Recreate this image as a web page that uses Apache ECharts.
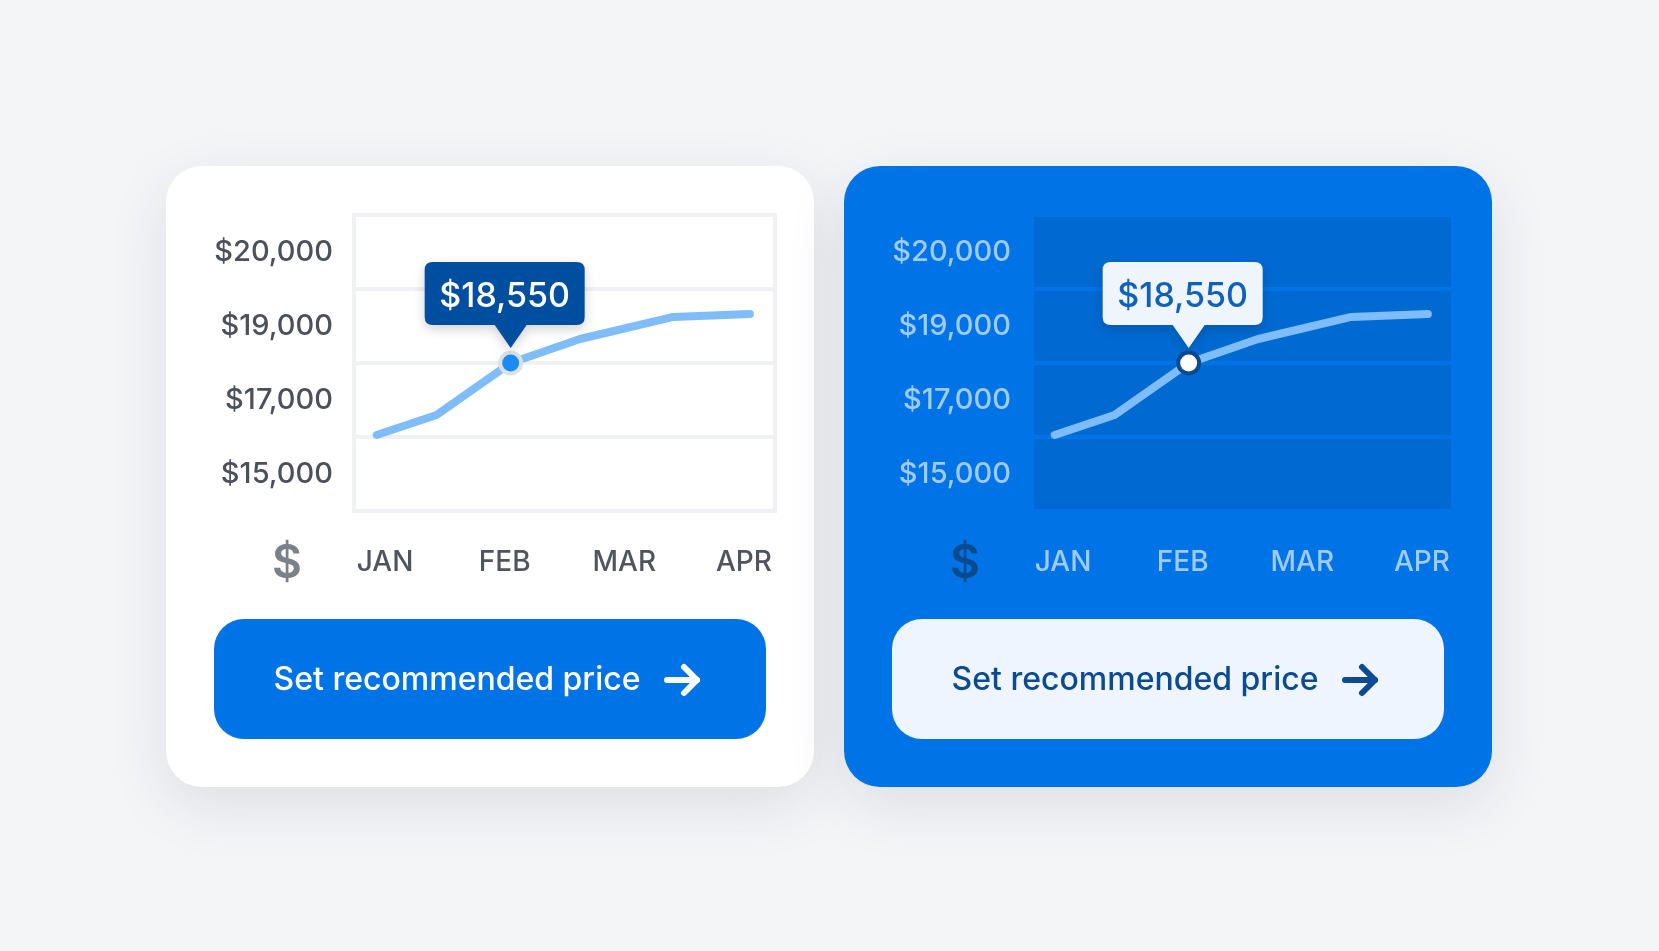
<!DOCTYPE html>
<html>
<head>
<meta charset="utf-8">
<title>Set recommended price</title>
<style>
  html, body { margin: 0; padding: 0; background: #f4f5f7; }
  #main { width: 1659px; height: 951px; }
</style>
<script src="https://cdn.jsdelivr.net/npm/echarts@6/dist/echarts.min.js"></script>
</head>
<body>
<div id="main"></div>
<script>
// chart data
var months = ['JAN', 'FEB', 'MAR', 'APR'];
var monthTicks = [0, 1, 2, 3];
var priceTicks = ['$15,000', '$17,000', '$19,000', '$20,000'];
var pointMonth = [-0.07, 0.43, 1.05, 1.63, 2.41, 3.05];
var pointPrice = [16240, 16880, 18550, 19320, 20030, 20120];
var highlightIndex = 2;
var buttonText = 'Set recommended price';

var FONT = 'Inter, "Noto Sans", sans-serif';
// rounded box with a little pointer at the bottom
var calloutPath = 'path://M8,0 L152,0 Q160,0 160,8 L160,55 Q160,63 152,63 L102,63 L86,86 L70,63 L8,63 Q0,63 0,55 L0,8 Q0,0 8,0 Z';

// same card twice: light one and blue one
var themes = [
  {
    cardX: 166, card: '#ffffff', plot: '#ffffff', split: '#eff1f4',
    yLabel: '#4a515b', xLabel: '#4e555f', dollar: '#7a818b',
    line: '#7ebcfa', dot: '#1a8bf5', dotBorder: '#dde1e6',
    tip: '#004e9f', tipText: '#ffffff', button: '#0073e6', buttonText: '#ffffff'
  },
  {
    cardX: 844, card: '#0073e6', plot: '#006ad2', split: '#0073e6',
    yLabel: '#a0cbf6', xLabel: '#9ecbf8', dollar: '#0b4a8e',
    line: '#7ebcfa', dot: '#ffffff', dotBorder: '#0b4a8e',
    tip: '#eef5fd', tipText: '#1060be', button: '#eef5fe', buttonText: '#0c4a92'
  }
];

function seriesData(t) {
  return pointMonth.map(function (m, i) {
    if (i === highlightIndex) {
      return {
        value: [m, pointPrice[i]],
        symbol: 'circle',
        symbolSize: 21,
        itemStyle: { color: t.dot, borderColor: t.dotBorder, borderWidth: 4 }
      };
    }
    return [m, pointPrice[i]];
  });
}

var grids = [], xAxes = [], yAxes = [], series = [], graphics = [];

themes.forEach(function (t, i) {
  var cx = t.cardX;

  grids.push({
    left: cx + 188, top: 215, width: 421, height: 296,
    show: true, backgroundColor: t.plot, borderColor: t.split, borderWidth: 4
  });

  xAxes.push({
    gridIndex: i, type: 'value', min: -0.26, max: 3.26,
    axisLine: { show: false }, axisTick: { show: false }, splitLine: { show: false },
    axisLabel: {
      customValues: monthTicks,
      formatter: function (v) { return months[Math.round(v)]; },
      margin: 52, verticalAlign: 'middle',
      color: t.xLabel, fontSize: 28, fontWeight: 500, fontFamily: FONT
    }
  });

  // labels sit in the bands, not on the lines
  yAxes.push({
    gridIndex: i, type: 'category', data: priceTicks, boundaryGap: true,
    axisLine: { show: false }, axisTick: { show: false },
    splitLine: { show: true, interval: 0, lineStyle: { color: t.split, width: 4 } },
    axisLabel: {
      margin: 21, padding: [6, 0, 0, 0],
      color: t.yLabel, fontSize: 29, fontWeight: 500, fontFamily: FONT
    }
  });
  yAxes.push({ gridIndex: i, type: 'value', min: 13800, max: 23300, show: false });

  series.push({
    type: 'line', xAxisIndex: i, yAxisIndex: i * 2 + 1,
    data: seriesData(t),
    symbol: 'none', showSymbol: true, silent: true,
    lineStyle: { color: t.line, width: 8, cap: 'round', join: 'round' },
    markPoint: {
      silent: true,
      symbol: calloutPath, symbolSize: [160, 86], symbolOffset: [-6, -58],
      itemStyle: { color: t.tip, shadowBlur: 12, shadowColor: 'rgba(0,0,0,0.18)', shadowOffsetY: 4 },
      label: {
        show: true, position: 'inside', offset: [0, -8],
        color: t.tipText, fontSize: 34, fontWeight: 500, fontFamily: FONT,
        formatter: function (p) { return '$' + p.value.toLocaleString('en-US'); }
      },
      data: [{ coord: [pointMonth[highlightIndex], pointPrice[highlightIndex]], value: pointPrice[highlightIndex] }]
    }
  });

  // card, dollar icon, button, arrow
  graphics.push({
    type: 'rect', z: -10,
    shape: { x: cx, y: 166, width: 648, height: 621, r: 36 },
    style: { fill: t.card, shadowBlur: 60, shadowOffsetY: 18, shadowColor: 'rgba(40,50,70,0.11)' }
  });
  graphics.push({
    type: 'text', z: 11, x: cx + 121, y: 564,
    style: {
      text: '$', fill: t.dollar, fontSize: 46, fontWeight: 600, fontFamily: FONT,
      align: 'center', verticalAlign: 'middle'
    }
  });
  graphics.push({
    type: 'rect', z: 10,
    shape: { x: cx + 48, y: 619, width: 552, height: 120, r: 30 },
    style: { fill: t.button }
  });
  graphics.push({
    type: 'text', z: 11, x: cx + 291, y: 680,
    style: {
      text: buttonText, fill: t.buttonText, fontSize: 32, fontWeight: 500, fontFamily: FONT,
      align: 'center', verticalAlign: 'middle'
    }
  });
  graphics.push({
    type: 'polyline', z: 11,
    shape: { points: [[cx + 501, 680], [cx + 531, 680]] },
    style: { stroke: t.buttonText, lineWidth: 6, lineCap: 'round', fill: null }
  });
  graphics.push({
    type: 'polyline', z: 11,
    shape: { points: [[cx + 518, 667], [cx + 531, 680], [cx + 518, 693]] },
    style: { stroke: t.buttonText, lineWidth: 6, lineCap: 'round', lineJoin: 'round', fill: null }
  });
});

var chart = echarts.init(document.getElementById('main'));
var option = {
  backgroundColor: '#f4f5f7',
  animation: false,
  grid: grids,
  xAxis: xAxes,
  yAxis: yAxes,
  series: series,
  graphic: graphics
};
chart.setOption(option);
</script>
</body>
</html>
